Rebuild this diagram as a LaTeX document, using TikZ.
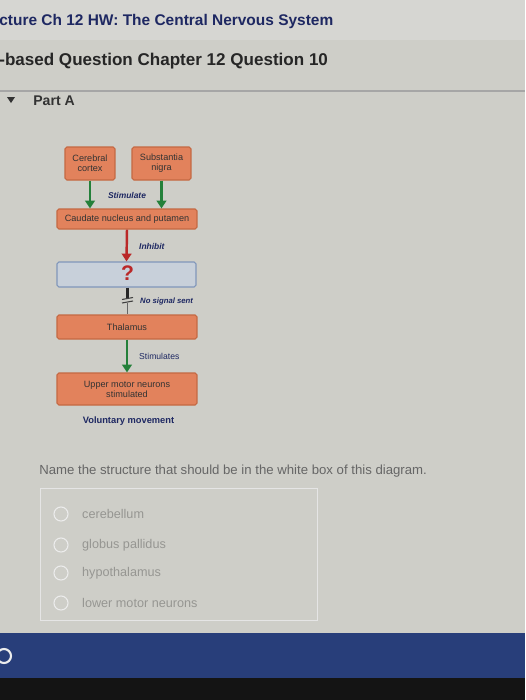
\documentclass[tikz,border=0pt]{standalone}
\usepackage{fontspec}
\setmainfont{Liberation Sans}
\usetikzlibrary{arrows.meta}
\definecolor{screen}{RGB}{206,206,200}
\definecolor{header}{RGB}{214,214,210}
\definecolor{boxfill}{RGB}{226,130,92}
\definecolor{boxline}{RGB}{196,104,66}
\definecolor{qfill}{RGB}{200,208,218}
\definecolor{qline}{RGB}{128,150,186}
\definecolor{stimgreen}{RGB}{36,128,58}
\definecolor{inhred}{RGB}{186,40,40}
\definecolor{navy}{RGB}{30,40,98}
\definecolor{optgray}{RGB}{150,150,146}
\definecolor{barblue}{RGB}{40,62,122}
\tikzset{
  brainbox/.style={draw=boxline,fill=boxfill,line width=0.6pt,rounded corners=1pt,
    font=\fontsize{5.2}{5.8}\selectfont,text=black!80,align=center,inner sep=0pt},
  whitebox/.style={draw=qline,fill=qfill,line width=0.6pt,rounded corners=1pt,inner sep=0pt},
  tag/.style={font=\fontsize{4.8}{5.4}\selectfont\itshape\bfseries,text=navy},
  stim/.style={draw=stimgreen,line width=1.4pt,-{Triangle[length=4.5pt,width=5.5pt]}},
  radio/.style={circle,draw=white!85!gray,line width=0.6pt,minimum size=8pt,inner sep=0pt},
  option/.style={anchor=west,font=\fontsize{7.2}{8.5}\selectfont,text=optgray}
}
\begin{document}
\begin{tikzpicture}[x=0.02cm,y=-0.02cm]
  \useasboundingbox (0,0) rectangle (525,700);
  \fill[screen] (0,0) rectangle (525,633);
  \fill[header] (0,0) rectangle (525,40);
  \draw[gray!70,line width=0.6pt] (0,91) -- (525,91);
  % heading
  \node[anchor=west,inner sep=0pt,font=\fontsize{8.8}{10}\selectfont\bfseries,text=navy]
    (title) at (-1,22) {cture Ch 12 HW: The Central Nervous System};
  \node[anchor=west,inner sep=0pt,font=\fontsize{9.7}{11}\selectfont\bfseries,text=black!85]
    (chapter) at (-1,61) {-based Question Chapter 12 Question 10};
  \fill[black!80] (7,97) -- (15,97) -- (11,103) -- cycle;
  \node[anchor=west,inner sep=0pt,font=\fontsize{8}{9}\selectfont\bfseries,text=black!80]
    (part) at (33,101) {Part A};
  % diagram
  \node[brainbox,minimum width=1cm,minimum height=0.66cm] (cortex) at (90,163.5) {Cerebral\\cortex};
  \node[brainbox,minimum width=1.18cm,minimum height=0.66cm] (nigra) at (161.5,163.5) {Substantia\\nigra};
  \node[brainbox,minimum width=2.8cm,minimum height=0.4cm] (caudate) at (127,219) {Caudate nucleus and putamen};
  \node[whitebox,minimum width=2.78cm,minimum height=0.5cm] (unknown) at (126.5,274.5) {};
  \node[inner sep=0pt,font=\fontsize{12}{13}\selectfont\bfseries,text=inhred] (mark) at (127.5,273) {?};
  \node[brainbox,minimum width=2.8cm,minimum height=0.48cm] (thalamus) at (127,327) {Thalamus};
  \node[brainbox,minimum width=2.8cm,minimum height=0.64cm] (umn) at (127,389) {Upper motor neurons\\stimulated};
  \draw[stim] (cortex) -- (cortex |- caudate.north);
  \draw[stim] (nigra) -- (nigra |- caudate.north);
  \node[tag] (stimulate) at (127,195) {Stimulate};
  \draw[draw=inhred,line width=1.4pt,-{Triangle[length=4.5pt,width=5.5pt]}] (caudate.south) -- (unknown.north);
  \node[tag,anchor=west] (inhibit) at (133,246) {Inhibit};
  \draw[black!85,line width=1.2pt] (unknown.south -| mark) -- ([yshift=-7.5pt]unknown.south -| mark) coordinate (breakmark);
  \draw[gray!80!black,line width=0.6pt] (breakmark) -- (thalamus.north -| mark);
  \fill[screen] (123,298) rectangle (132,303);
  \draw[black!75,line width=0.6pt] (122,299.5) -- (133,297.5) (122,303) -- (133,301);
  \node[tag,anchor=west,font=\fontsize{4.4}{5}\selectfont\itshape\bfseries] (nosignal) at (134,301) {No signal sent};
  \draw[stim] (thalamus.south) -- (umn.north);
  \node[anchor=west,font=\fontsize{4.9}{5.5}\selectfont,text=navy] (stimulates) at (133,356) {Stimulates};
  \node[font=\fontsize{5.3}{6}\selectfont\bfseries,text=navy] (movement) at (128.5,421) {Voluntary movement};
  % question
  \node[anchor=west,inner sep=0pt,font=\fontsize{7.5}{9}\selectfont,text=black!60]
    (question) at (39,471) {Name the structure that should be in the white box of this diagram.};
  \node[draw=white!80!gray,line width=0.5pt,minimum width=5.54cm,minimum height=2.64cm,anchor=north west]
    (choices) at (40,488) {};
  \foreach \y/\txt [count=\i] in {514/cerebellum,545/globus pallidus,573/hypothalamus,603/lower motor neurons} {
    \node[radio] (radio\i) at (61,\y) {};
    \node[option] (choice\i) at (76,\y) {\txt};
  }
  % bottom bar
  \fill[barblue] (0,633) rectangle (525,678);
  \fill[black!92] (0,678) rectangle (525,700);
  \draw[white!85!gray,line width=1.2pt] (4,656) circle [radius=7];
\end{tikzpicture}
\end{document}
